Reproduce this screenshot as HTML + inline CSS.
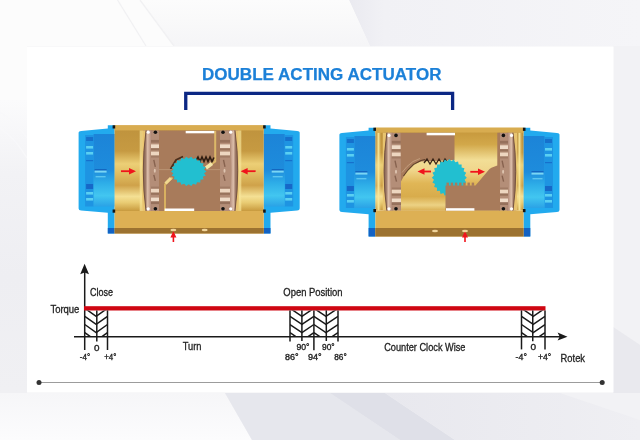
<!DOCTYPE html>
<html><head><meta charset="utf-8"><style>
html,body{margin:0;padding:0;width:640px;height:440px;overflow:hidden;background:#f1f1f4;}
svg{display:block;font-family:"Liberation Sans",sans-serif;will-change:transform;filter:blur(0.35px);}
</style></head><body>
<svg width="640" height="440" viewBox="0 0 640 440" font-family="Liberation Sans, sans-serif">
<defs>
<linearGradient id="bgTR" x1="0" y1="0" x2="1" y2="0">
<stop offset="0" stop-color="#eaeaf0"/>
<stop offset="0.12" stop-color="#f1f1f5"/>
<stop offset="1" stop-color="#f5f5f8"/>
</linearGradient>
<linearGradient id="bgL" x1="0" y1="0" x2="0" y2="1">
<stop offset="0" stop-color="#fbfbfc"/>
<stop offset="0.25" stop-color="#f2f2f5"/>
<stop offset="0.6" stop-color="#eeeef2"/>
<stop offset="1" stop-color="#f0f0f3"/>
</linearGradient>
<linearGradient id="bgBR" x1="0" y1="0" x2="1" y2="0">
<stop offset="0" stop-color="#e8e8ee"/>
<stop offset="1" stop-color="#efeff3"/>
</linearGradient>
<linearGradient id="bgTM" x1="0" y1="0" x2="0" y2="1">
<stop offset="0" stop-color="#fcfcfc"/>
<stop offset="1" stop-color="#f5f5f7"/>
</linearGradient>
<linearGradient id="bgBL" x1="0" y1="0" x2="0" y2="1">
<stop offset="0" stop-color="#f6f6f8"/>
<stop offset="1" stop-color="#fcfcfd"/>
</linearGradient>
<linearGradient id="wallHL" x1="0" y1="0" x2="1" y2="0">
<stop offset="0" stop-color="#f4dc90" stop-opacity="0"/>
<stop offset="0.5" stop-color="#f8e89c" stop-opacity="0.9"/>
<stop offset="1" stop-color="#f4dc90" stop-opacity="0"/>
</linearGradient>
<linearGradient id="goldBody" x1="0" y1="0" x2="0" y2="1">
<stop offset="0" stop-color="#dcb054"/>
<stop offset="0.07" stop-color="#c0943e"/>
<stop offset="0.3" stop-color="#c69a42"/>
<stop offset="0.45" stop-color="#eccf76"/>
<stop offset="0.55" stop-color="#e2c064"/>
<stop offset="0.7" stop-color="#cfa24a"/>
<stop offset="0.83" stop-color="#f4e094"/>
<stop offset="0.9" stop-color="#e9cc74"/>
<stop offset="1" stop-color="#c89a3e"/>
</linearGradient>
<linearGradient id="capPanel" x1="0" y1="0" x2="0" y2="1">
<stop offset="0" stop-color="#1c84d8"/>
<stop offset="0.5" stop-color="#1e8cdc"/>
<stop offset="0.68" stop-color="#2eaee8"/>
<stop offset="0.85" stop-color="#42c6f0"/>
<stop offset="1" stop-color="#2aa2e6"/>
</linearGradient>
<linearGradient id="pistonStripL" x1="0" y1="0" x2="1" y2="0">
<stop offset="0" stop-color="#8a6858"/>
<stop offset="0.25" stop-color="#9c7866"/>
<stop offset="0.5" stop-color="#dcbeaa"/>
<stop offset="1" stop-color="#a88070"/>
</linearGradient>
<linearGradient id="pistonStripR" x1="1" y1="0" x2="0" y2="0">
<stop offset="0" stop-color="#8a6858"/>
<stop offset="0.25" stop-color="#9c7866"/>
<stop offset="0.5" stop-color="#dcbeaa"/>
<stop offset="1" stop-color="#a88070"/>
</linearGradient>
<linearGradient id="innerGold" x1="0" y1="0" x2="0" y2="1">
<stop offset="0" stop-color="#c89a3e"/>
<stop offset="0.15" stop-color="#d2a84a"/>
<stop offset="0.35" stop-color="#f2de96"/>
<stop offset="0.48" stop-color="#f0d68c"/>
<stop offset="0.65" stop-color="#e0b656"/>
<stop offset="0.82" stop-color="#d8ac4c"/>
<stop offset="0.93" stop-color="#ecd284"/>
<stop offset="1" stop-color="#dab054"/>
</linearGradient>
<clipPath id="c848"><rect x="84.8" y="310.4" width="22.700000000000003" height="26.4"/></clipPath><clipPath id="c2900"><rect x="290" y="310.4" width="23.899999999999977" height="26.4"/></clipPath><clipPath id="c3139"><rect x="313.9" y="310.4" width="24.100000000000023" height="26.4"/></clipPath><clipPath id="c5215"><rect x="521.5" y="310.4" width="23.5" height="26.4"/></clipPath>
</defs>
<rect x="0" y="0" width="640" height="440" fill="#f0f0f3"/>
<polygon points="0,0 349,0 370,46 27,46 27,100 0,100" fill="#fcfcfc"/>
<polygon points="349,0 640,0 640,46.5 370,46.5" fill="url(#bgTR)"/>
<polygon points="140,0 349,0 370,46 174,46" fill="url(#bgTM)"/>
<path d="M117.5 0L146 46M140 0L174 46" stroke="#f1f1f3" stroke-width="1.3"/>
<rect x="0" y="100" width="27" height="293" fill="url(#bgL)"/>
<path d="M0 112Q14 120 27 138M0 128Q15 138 27 158" stroke="#f8f8fa" stroke-width="1.2" fill="none"/>
<polygon points="613,46 640,46 640,345 613,327" fill="#f2f2f5"/>
<polygon points="613,327 640,345 640,393 613,393" fill="#e9e9ee"/>
<polygon points="0,393 225,393 252,440 0,440" fill="url(#bgBL)"/>
<polygon points="225,393 330,393 400,440 252,440" fill="#e6e7ed"/>
<polygon points="330,393 385,393 455,440 400,440" fill="#dfe0e8"/>
<polygon points="385,393 640,393 640,440 455,440" fill="url(#bgBR)"/>
<polygon points="560,393 640,393 640,420" fill="#f2f2f5"/>
<rect x="27" y="46.5" width="586.5" height="346" fill="#ffffff"/><text x="202" y="80" font-family="Liberation Sans" font-weight="bold" font-size="17.4" fill="#1c80d8" stroke="#1c80d8" stroke-width="0.25" textLength="239.5" lengthAdjust="spacingAndGlyphs">DOUBLE ACTING ACTUATOR</text><path d="M185.75 110V93.3H452.6V110" fill="none" stroke="#0b2784" stroke-width="3.3"/><path d="M78.6 132.6 Q78.6 131 81.1 131 L107.8 128.5 L107.8 125.3 L114.6 125.3 L114.6 233.5 L107.8 233.5 L107.8 212.7 L81.1 210.5 Q78.6 210.5 78.6 208.5 Z" fill="#22aaee"/><rect x="85.1" y="135" width="8.5" height="71.5" fill="#1e94e2"/><rect x="93.6" y="134" width="21" height="72.5" fill="url(#capPanel)"/><rect x="86.1" y="137" width="7" height="4" fill="#1670cc"/><rect x="86.1" y="146" width="7" height="2.6" fill="#5ad0f2"/><rect x="86.1" y="152" width="7" height="2.6" fill="#5ad0f2"/><rect x="86.1" y="160" width="7" height="1.2" fill="#1670cc"/><rect x="86.1" y="184" width="7" height="5" fill="#1668c8"/><rect x="86.1" y="192" width="7" height="2.6" fill="#5ad0f2"/><rect x="86.1" y="198" width="7" height="2.6" fill="#5ad0f2"/><rect x="94.6" y="169" width="12" height="1.6" fill="#1466c0"/><rect x="94.6" y="170.6" width="12" height="2" fill="#7ad6f4"/><rect x="95.6" y="176" width="10" height="1.4" fill="#6ad0f2" opacity="0.8"/><rect x="107.8" y="228" width="6.8" height="5.5" fill="#1262c4"/><g transform="translate(378.29999999999995 0) scale(-1 1)"><path d="M78.6 132.6 Q78.6 131 81.1 131 L107.8 128.5 L107.8 125.3 L114.6 125.3 L114.6 233.5 L107.8 233.5 L107.8 212.7 L81.1 210.5 Q78.6 210.5 78.6 208.5 Z" fill="#22aaee"/><rect x="85.1" y="135" width="8.5" height="71.5" fill="#1e94e2"/><rect x="93.6" y="134" width="21" height="72.5" fill="url(#capPanel)"/><rect x="86.1" y="137" width="7" height="4" fill="#1670cc"/><rect x="86.1" y="146" width="7" height="2.6" fill="#5ad0f2"/><rect x="86.1" y="152" width="7" height="2.6" fill="#5ad0f2"/><rect x="86.1" y="160" width="7" height="1.2" fill="#1670cc"/><rect x="86.1" y="184" width="7" height="5" fill="#1668c8"/><rect x="86.1" y="192" width="7" height="2.6" fill="#5ad0f2"/><rect x="86.1" y="198" width="7" height="2.6" fill="#5ad0f2"/><rect x="94.6" y="169" width="12" height="1.6" fill="#1466c0"/><rect x="94.6" y="170.6" width="12" height="2" fill="#7ad6f4"/><rect x="95.6" y="176" width="10" height="1.4" fill="#6ad0f2" opacity="0.8"/><rect x="107.8" y="228" width="6.8" height="5.5" fill="#1262c4"/></g><rect x="114.6" y="125.3" width="149.1" height="85.7" fill="url(#goldBody)"/><rect x="114.6" y="125.3" width="149.1" height="5" fill="#d8ac50"/><rect x="114.6" y="211" width="149.1" height="22.5" fill="#ddb054"/><rect x="114.6" y="228" width="149.1" height="5.5" fill="#9c7230"/><rect x="112.6" y="125.3" width="2.6" height="3.2" fill="#151515"/><rect x="263.09999999999997" y="125.3" width="2.6" height="3.2" fill="#151515"/><rect x="112.6" y="209.5" width="2.6" height="3.2" fill="#151515"/><rect x="263.09999999999997" y="209.5" width="2.6" height="3.2" fill="#151515"/><path d="M339.4 134.6 Q339.4 133 341.9 133 L368.59999999999997 130.5 L368.59999999999997 127.7 L375.4 127.7 L375.4 236.5 L368.59999999999997 236.5 L368.59999999999997 214.2 L341.9 212 Q339.4 212 339.4 210 Z" fill="#22aaee"/><rect x="345.9" y="137" width="8.5" height="71" fill="#1e94e2"/><rect x="354.4" y="136" width="21" height="72" fill="url(#capPanel)"/><rect x="346.9" y="139" width="7" height="4" fill="#1670cc"/><rect x="346.9" y="148" width="7" height="2.6" fill="#5ad0f2"/><rect x="346.9" y="154" width="7" height="2.6" fill="#5ad0f2"/><rect x="346.9" y="162" width="7" height="1.2" fill="#1670cc"/><rect x="346.9" y="186" width="7" height="5" fill="#1668c8"/><rect x="346.9" y="194" width="7" height="2.6" fill="#5ad0f2"/><rect x="346.9" y="200" width="7" height="2.6" fill="#5ad0f2"/><rect x="355.4" y="171" width="12" height="1.6" fill="#1466c0"/><rect x="355.4" y="172.6" width="12" height="2" fill="#7ad6f4"/><rect x="356.4" y="178" width="10" height="1.4" fill="#6ad0f2" opacity="0.8"/><rect x="368.59999999999997" y="228" width="6.8" height="8.5" fill="#1262c4"/><g transform="translate(898.9 0) scale(-1 1)"><path d="M339.4 134.6 Q339.4 133 341.9 133 L368.59999999999997 130.5 L368.59999999999997 127.7 L375.4 127.7 L375.4 236.5 L368.59999999999997 236.5 L368.59999999999997 214.2 L341.9 212 Q339.4 212 339.4 210 Z" fill="#22aaee"/><rect x="345.9" y="137" width="8.5" height="71" fill="#1e94e2"/><rect x="354.4" y="136" width="21" height="72" fill="url(#capPanel)"/><rect x="346.9" y="139" width="7" height="4" fill="#1670cc"/><rect x="346.9" y="148" width="7" height="2.6" fill="#5ad0f2"/><rect x="346.9" y="154" width="7" height="2.6" fill="#5ad0f2"/><rect x="346.9" y="162" width="7" height="1.2" fill="#1670cc"/><rect x="346.9" y="186" width="7" height="5" fill="#1668c8"/><rect x="346.9" y="194" width="7" height="2.6" fill="#5ad0f2"/><rect x="346.9" y="200" width="7" height="2.6" fill="#5ad0f2"/><rect x="355.4" y="171" width="12" height="1.6" fill="#1466c0"/><rect x="355.4" y="172.6" width="12" height="2" fill="#7ad6f4"/><rect x="356.4" y="178" width="10" height="1.4" fill="#6ad0f2" opacity="0.8"/><rect x="368.59999999999997" y="228" width="6.8" height="8.5" fill="#1262c4"/></g><rect x="375.4" y="127.7" width="148.10000000000002" height="82.8" fill="url(#goldBody)"/><rect x="375.4" y="127.7" width="148.10000000000002" height="5" fill="#d8ac50"/><rect x="375.4" y="210.5" width="148.10000000000002" height="26.0" fill="#ddb054"/><rect x="375.4" y="228" width="148.10000000000002" height="8.5" fill="#9c7230"/><rect x="373.4" y="127.7" width="2.6" height="3.2" fill="#151515"/><rect x="522.9" y="127.7" width="2.6" height="3.2" fill="#151515"/><rect x="373.4" y="209.0" width="2.6" height="3.2" fill="#151515"/><rect x="522.9" y="209.0" width="2.6" height="3.2" fill="#151515"/><rect x="143" y="130.5" width="95" height="80.5" fill="#a87b5b"/><rect x="143" y="130.5" width="16" height="80.5" fill="#b48e78"/><path d="M142 130.5H146Q140.5 170.75 146 211H142Z" fill="#e8c470"/><path d="M146 130.5Q140.5 170.75 146 211H152Q147 170.75 152 130.5Z" fill="url(#pistonStripL)"/><path d="M146 130.5Q140.5 170.75 146 211" stroke="#6e4c3a" stroke-width="0.9" fill="none"/><rect x="151" y="139.9" width="8" height="2.8" fill="#7e5a46" opacity="0.55"/><rect x="151" y="144.4" width="8" height="3.8" fill="#f2dfcc" opacity="0.95"/><rect x="151" y="148.2" width="8" height="2.2" fill="#86604a" opacity="0.6"/><rect x="151" y="151.7" width="8" height="3.8" fill="#f0dac4" opacity="0.95"/><rect x="151" y="155.4" width="8" height="2.2" fill="#8a644e" opacity="0.45"/><rect x="151" y="186.6" width="8" height="2.2" fill="#8a644e" opacity="0.45"/><rect x="151" y="188.8" width="8" height="3.8" fill="#f0dac4" opacity="0.95"/><rect x="151" y="192.6" width="8" height="2.2" fill="#86604a" opacity="0.6"/><rect x="151" y="197.6" width="8" height="3.8" fill="#f2dfcc" opacity="0.95"/><rect x="151" y="201.3" width="8" height="2.8" fill="#7e5a46" opacity="0.55"/><path d="M153.8 159.8L155.3 166.8M153.8 174.8L155.3 180.8" stroke="#6a4634" stroke-width="1.4" opacity="0.6"/><ellipse cx="154.8" cy="170.8" rx="1" ry="2" fill="#f0dcc8" opacity="0.7"/><rect x="220" y="130.5" width="18" height="80.5" fill="#b48e78"/><path d="M239 130.5H235Q240.5 170.75 235 211H239Z" fill="#e8c470"/><path d="M235 130.5Q240.5 170.75 235 211H229Q234 170.75 229 130.5Z" fill="url(#pistonStripR)"/><path d="M235 130.5Q240.5 170.75 235 211" stroke="#6e4c3a" stroke-width="0.9" fill="none"/><rect x="220" y="139.9" width="10" height="2.8" fill="#7e5a46" opacity="0.55"/><rect x="220" y="144.4" width="10" height="3.8" fill="#f2dfcc" opacity="0.95"/><rect x="220" y="148.2" width="10" height="2.2" fill="#86604a" opacity="0.6"/><rect x="220" y="151.7" width="10" height="3.8" fill="#f0dac4" opacity="0.95"/><rect x="220" y="155.4" width="10" height="2.2" fill="#8a644e" opacity="0.45"/><rect x="220" y="186.6" width="10" height="2.2" fill="#8a644e" opacity="0.45"/><rect x="220" y="188.8" width="10" height="3.8" fill="#f0dac4" opacity="0.95"/><rect x="220" y="192.6" width="10" height="2.2" fill="#86604a" opacity="0.6"/><rect x="220" y="197.6" width="10" height="3.8" fill="#f2dfcc" opacity="0.95"/><rect x="220" y="201.3" width="10" height="2.8" fill="#7e5a46" opacity="0.55"/><path d="M223.5 159.8L225.0 166.8M223.5 174.8L225.0 180.8" stroke="#6a4634" stroke-width="1.4" opacity="0.6"/><ellipse cx="224.5" cy="170.8" rx="1" ry="2" fill="#f0dcc8" opacity="0.7"/><path d="M215.2 131V161.5L206 168" stroke="#dcb868" stroke-width="2" fill="none"/><path d="M212 163.5L206 168" stroke="#f4e6a8" stroke-width="3.5" fill="none"/><path d="M172.5 177.5L165 184.5V211" stroke="#d8b060" stroke-width="2" fill="none"/><path d="M171 178L165.5 183.5" stroke="#f0d890" stroke-width="3" fill="none"/><path d="M196 160.5L198 157L200 161.5L202 157L204 161.5L206 157L208 161.5L210 157L212 161.5L214 157.5" stroke="#2e1c10" stroke-width="1.6" fill="none"/><path d="M170.5 169L176 160L183 156.5" stroke="#4a2e1c" stroke-width="1.8" fill="none"/><path d="M159 169.6H172M206 169.6H220" stroke="#c4a080" stroke-width="0.9" opacity="0.7"/><polygon points="206.50,171.40 204.04,173.22 205.78,175.54 202.80,176.72 203.67,179.35 200.41,179.78 200.36,182.51 197.08,182.17 196.09,184.77 193.07,183.68 191.23,185.95 188.70,184.20 186.17,185.95 184.33,183.68 181.31,184.77 180.32,182.17 177.04,182.51 176.99,179.78 173.73,179.35 174.60,176.72 171.62,175.54 173.36,173.22 170.90,171.40 173.36,169.58 171.62,167.26 174.60,166.08 173.73,163.45 176.99,163.02 177.04,160.29 180.32,160.63 181.31,158.03 184.33,159.12 186.17,156.85 188.70,158.60 191.23,156.85 193.07,159.12 196.09,158.03 197.08,160.63 200.36,160.29 200.41,163.02 203.67,163.45 202.80,166.08 205.78,167.26 204.04,169.58" fill="#22bfd0"/><rect x="185.7" y="130.9" width="28.6" height="2.4" fill="#fff"/><rect x="164.7" y="208.5" width="29.5" height="2.5" fill="#fff"/><circle cx="148.2" cy="132.2" r="1.6" fill="#fff"/><circle cx="155.4" cy="132.2" r="1.8" fill="#111"/><circle cx="148.2" cy="208.8" r="1.6" fill="#fff"/><circle cx="155.4" cy="208.8" r="1.8" fill="#111"/><circle cx="230.7" cy="132.2" r="1.6" fill="#fff"/><circle cx="223" cy="132.2" r="1.8" fill="#111"/><circle cx="230.7" cy="208.8" r="1.6" fill="#fff"/><circle cx="223" cy="208.8" r="1.8" fill="#111"/><rect x="139" y="130.5" width="4" height="80.5" fill="url(#wallHL)"/><rect x="238" y="130.5" width="4" height="80.5" fill="url(#wallHL)"/><path d="M121 171.2H131" stroke="#f0141c" stroke-width="1.8"/><path d="M136 171.2L129 168.0L129 174.39999999999998Z" fill="#f0141c"/><path d="M255.6 171.2H245.6" stroke="#f0141c" stroke-width="1.8"/><path d="M240.6 171.2L247.6 168.0L247.6 174.39999999999998Z" fill="#f0141c"/><path d="M173.4 242V236" stroke="#f0141c" stroke-width="1.6"/><path d="M173.4 231L170.4 237.5L176.4 237.5Z" fill="#f0141c"/><ellipse cx="173.4" cy="230" rx="3" ry="1.2" fill="#f0d49a"/><ellipse cx="204.7" cy="230" rx="3" ry="1.2" fill="#f0d49a"/><rect x="383.5" y="132.8" width="133" height="77.7" fill="url(#innerGold)"/><rect x="383.8" y="132.8" width="17.19999999999999" height="77.69999999999999" fill="#b48e78"/><path d="M382.8 132.8H386.8Q381.3 171.65 386.8 210.5H382.8Z" fill="#e8c470"/><path d="M386.8 132.8Q381.3 171.65 386.8 210.5H392.8Q387.8 171.65 392.8 132.8Z" fill="url(#pistonStripL)"/><path d="M386.8 132.8Q381.3 171.65 386.8 210.5" stroke="#6e4c3a" stroke-width="0.9" fill="none"/><rect x="391.8" y="140.8" width="9.199999999999989" height="2.8" fill="#7e5a46" opacity="0.55"/><rect x="391.8" y="145.3" width="9.199999999999989" height="3.8" fill="#f2dfcc" opacity="0.95"/><rect x="391.8" y="149.2" width="9.199999999999989" height="2.2" fill="#86604a" opacity="0.6"/><rect x="391.8" y="152.6" width="9.199999999999989" height="3.8" fill="#f0dac4" opacity="0.95"/><rect x="391.8" y="156.3" width="9.199999999999989" height="2.2" fill="#8a644e" opacity="0.45"/><rect x="391.8" y="187.5" width="9.199999999999989" height="2.2" fill="#8a644e" opacity="0.45"/><rect x="391.8" y="189.7" width="9.199999999999989" height="3.8" fill="#f0dac4" opacity="0.95"/><rect x="391.8" y="193.5" width="9.199999999999989" height="2.2" fill="#86604a" opacity="0.6"/><rect x="391.8" y="198.5" width="9.199999999999989" height="3.8" fill="#f2dfcc" opacity="0.95"/><rect x="391.8" y="202.2" width="9.199999999999989" height="2.8" fill="#7e5a46" opacity="0.55"/><path d="M395.0 160.7L396.5 167.7M395.0 175.7L396.5 181.7" stroke="#6a4634" stroke-width="1.4" opacity="0.6"/><ellipse cx="396.0" cy="171.7" rx="1" ry="2" fill="#f0dcc8" opacity="0.7"/><rect x="499" y="132.8" width="17" height="77.69999999999999" fill="#b48e78"/><path d="M517 132.8H513Q518.5 171.65 513 210.5H517Z" fill="#e8c470"/><path d="M513 132.8Q518.5 171.65 513 210.5H507Q512 171.65 507 132.8Z" fill="url(#pistonStripR)"/><path d="M513 132.8Q518.5 171.65 513 210.5" stroke="#6e4c3a" stroke-width="0.9" fill="none"/><rect x="499" y="140.8" width="9" height="2.8" fill="#7e5a46" opacity="0.55"/><rect x="499" y="145.3" width="9" height="3.8" fill="#f2dfcc" opacity="0.95"/><rect x="499" y="149.2" width="9" height="2.2" fill="#86604a" opacity="0.6"/><rect x="499" y="152.6" width="9" height="3.8" fill="#f0dac4" opacity="0.95"/><rect x="499" y="156.3" width="9" height="2.2" fill="#8a644e" opacity="0.45"/><rect x="499" y="187.5" width="9" height="2.2" fill="#8a644e" opacity="0.45"/><rect x="499" y="189.7" width="9" height="3.8" fill="#f0dac4" opacity="0.95"/><rect x="499" y="193.5" width="9" height="2.2" fill="#86604a" opacity="0.6"/><rect x="499" y="198.5" width="9" height="3.8" fill="#f2dfcc" opacity="0.95"/><rect x="499" y="202.2" width="9" height="2.8" fill="#7e5a46" opacity="0.55"/><path d="M502.1 160.7L503.6 167.7M502.1 175.7L503.6 181.7" stroke="#6a4634" stroke-width="1.4" opacity="0.6"/><ellipse cx="503.1" cy="171.7" rx="1" ry="2" fill="#f0dcc8" opacity="0.7"/><path d="M400.5 132.8H454.5V160L421 161.5L414 164L408.5 169.5L404.5 175L401 181.5Z" fill="#a87b5b"/><path d="M403.5 176L408 170L413.5 164.5L421 160.5L425 159.5" stroke="#4a2e1c" stroke-width="1.1" fill="none" opacity="0.8"/><path d="M402 172.5L407 166.5L413 161.5L420 158.5" stroke="#e0c6a4" stroke-width="0.8" fill="none" opacity="0.55"/><path d="M424 163L427 159L430 164L433 159L436 164L439 159L442 164L445 159L448 163" stroke="#3a2416" stroke-width="1.3" fill="none"/><polygon points="466.80,177.70 464.62,179.87 466.20,182.57 463.58,184.05 464.46,187.10 461.56,187.81 461.67,190.99 458.71,190.87 458.05,193.98 455.21,193.04 453.83,195.86 451.32,194.16 449.30,196.50 447.28,194.16 444.77,195.86 443.39,193.04 440.55,193.98 439.89,190.87 436.93,190.99 437.04,187.81 434.14,187.10 435.02,184.05 432.40,182.57 433.98,179.87 431.80,177.70 433.98,175.53 432.40,172.83 435.02,171.35 434.14,168.30 437.04,167.59 436.93,164.41 439.89,164.53 440.55,161.42 443.39,162.36 444.77,159.54 447.28,161.24 449.30,158.90 451.32,161.24 453.83,159.54 455.21,162.36 458.05,161.42 458.71,164.53 461.67,164.41 461.56,167.59 464.46,168.30 463.58,171.35 466.20,172.83 464.62,175.53" fill="#22bfd0"/><path d="M445.5 185.5H475.5L489.5 169L491.4 167.7L497.3 165.5V132.8H500V210.5H445.5Z" fill="#a87b5b"/><rect x="446.5" y="182.6" width="2.4" height="3.2" fill="#a87b5b"/><rect x="450.7" y="182.6" width="2.4" height="3.2" fill="#a87b5b"/><rect x="454.9" y="182.6" width="2.4" height="3.2" fill="#a87b5b"/><rect x="459.1" y="182.6" width="2.4" height="3.2" fill="#a87b5b"/><rect x="463.3" y="182.6" width="2.4" height="3.2" fill="#a87b5b"/><rect x="467.5" y="182.6" width="2.4" height="3.2" fill="#a87b5b"/><rect x="471.7" y="182.6" width="2.4" height="3.2" fill="#a87b5b"/><rect x="426.6" y="132.8" width="28.4" height="2.5" fill="#fff"/><rect x="446" y="208.2" width="28.4" height="2.5" fill="#fff"/><circle cx="389" cy="135.4" r="1.6" fill="#fff"/><circle cx="396" cy="135.4" r="1.8" fill="#111"/><circle cx="389" cy="208.8" r="1.6" fill="#fff"/><circle cx="396" cy="208.8" r="1.8" fill="#111"/><circle cx="511.5" cy="135.4" r="1.6" fill="#fff"/><circle cx="503.4" cy="135.4" r="1.8" fill="#111"/><circle cx="511.5" cy="208.8" r="1.6" fill="#fff"/><circle cx="503.4" cy="208.8" r="1.8" fill="#111"/><rect x="376" y="132.8" width="5" height="77.7" fill="url(#wallHL)"/><rect x="517" y="132.8" width="5" height="77.7" fill="url(#wallHL)"/><path d="M431 171.5H422.5" stroke="#f0141c" stroke-width="1.8"/><path d="M417.5 171.5L424.5 168.3L424.5 174.7Z" fill="#f0141c"/><path d="M470.3 171.8H480" stroke="#f0141c" stroke-width="1.8"/><path d="M485 171.8L478 168.60000000000002L478 175.0Z" fill="#f0141c"/><path d="M465 242V236" stroke="#f0141c" stroke-width="1.6"/><path d="M465 231L462 237.5L468 237.5Z" fill="#f0141c"/><ellipse cx="435" cy="231" rx="3" ry="1.2" fill="#f0d49a"/><ellipse cx="465" cy="231" rx="3" ry="1.2" fill="#f0d49a"/><path d="M84.7 350V270" stroke="#1a1a1a" stroke-width="1.5" fill="none"/><path d="M84.6 263.8L89 274.3L84.6 272.4L80.2 274.3Z" fill="#1a1a1a"/><path d="M74 336.8H560" stroke="#1a1a1a" stroke-width="1.4" fill="none"/><path d="M567.5 336.7L557.6 332.5L559.7 336.7L557.6 340.6Z" fill="#1a1a1a"/><rect x="84" y="306.2" width="461.5" height="4.3" fill="#cf0612"/><path clip-path="url(#c848)" d="M84.8 308.30L96.15 316.30L107.5 308.30M84.8 316.30L96.15 324.30L107.5 316.30M84.8 324.50L96.15 332.50L107.5 324.50M84.8 332.70L96.15 340.70L107.5 332.70" stroke="#1a1a1a" stroke-width="1.5" fill="none"/><path clip-path="url(#c2900)" d="M290 308.30L301.95 316.30L313.9 308.30M290 316.30L301.95 324.30L313.9 316.30M290 324.50L301.95 332.50L313.9 324.50M290 332.70L301.95 340.70L313.9 332.70" stroke="#1a1a1a" stroke-width="1.5" fill="none"/><path clip-path="url(#c3139)" d="M313.9 308.30L325.95 316.30L338 308.30M313.9 316.30L325.95 324.30L338 316.30M313.9 324.50L325.95 332.50L338 324.50M313.9 332.70L325.95 340.70L338 332.70" stroke="#1a1a1a" stroke-width="1.5" fill="none"/><path clip-path="url(#c5215)" d="M521.5 308.30L533.25 316.30L545 308.30M521.5 316.30L533.25 324.30L545 316.30M521.5 324.50L533.25 332.50L545 324.50M521.5 332.70L533.25 340.70L545 332.70" stroke="#1a1a1a" stroke-width="1.5" fill="none"/><path d="M96.8 310.4V341.5" stroke="#1a1a1a" stroke-width="1.5"/><path d="M107.5 310.4V350" stroke="#1a1a1a" stroke-width="1.5"/><path d="M290 310.4V341.5" stroke="#1a1a1a" stroke-width="1.5"/><path d="M301.9 310.4V341" stroke="#1a1a1a" stroke-width="1.5"/><path d="M313.9 310.4V350.2" stroke="#1a1a1a" stroke-width="1.5"/><path d="M326.3 310.4V341" stroke="#1a1a1a" stroke-width="1.5"/><path d="M338 310.4V341.5" stroke="#1a1a1a" stroke-width="1.5"/><path d="M521.5 310.4V349.4" stroke="#1a1a1a" stroke-width="1.5"/><path d="M532.75 310.4V341.2" stroke="#1a1a1a" stroke-width="1.5"/><path d="M545 310.4V349.4" stroke="#1a1a1a" stroke-width="1.5"/><text x="90" y="295.7" font-size="10.5" fill="#222222" stroke="#222222" stroke-width="0.3" text-anchor="start" textLength="23" lengthAdjust="spacingAndGlyphs">Close</text><text x="50.4" y="312.8" font-size="10.5" fill="#222222" stroke="#222222" stroke-width="0.3" text-anchor="start" textLength="29" lengthAdjust="spacingAndGlyphs">Torque</text><text x="283.3" y="296" font-size="10.5" fill="#222222" stroke="#222222" stroke-width="0.3" text-anchor="start" textLength="59.3" lengthAdjust="spacingAndGlyphs">Open Position</text><text x="182.7" y="349.5" font-size="10.5" fill="#222222" stroke="#222222" stroke-width="0.3" text-anchor="start" textLength="18.7" lengthAdjust="spacingAndGlyphs">Turn</text><text x="384.2" y="350.5" font-size="10.5" fill="#222222" stroke="#222222" stroke-width="0.3" text-anchor="start" textLength="81.3" lengthAdjust="spacingAndGlyphs">Counter Clock Wise</text><text x="560.6" y="361.9" font-size="10.5" fill="#222222" stroke="#222222" stroke-width="0.3" text-anchor="start" textLength="24.4" lengthAdjust="spacingAndGlyphs">Rotek</text><text x="94" y="351.3" font-size="8.8" fill="#222222" stroke="#222222" stroke-width="0.35" text-anchor="start" textLength="5.5" lengthAdjust="spacingAndGlyphs">0</text><text x="79.8" y="360.3" font-size="8.8" fill="#222222" stroke="#222222" stroke-width="0.35" text-anchor="start" textLength="10.3" lengthAdjust="spacingAndGlyphs">-4°</text><text x="104.2" y="360.3" font-size="8.8" fill="#222222" stroke="#222222" stroke-width="0.35" text-anchor="start" textLength="12.2" lengthAdjust="spacingAndGlyphs">+4°</text><text x="296.4" y="349.7" font-size="8.8" fill="#222222" stroke="#222222" stroke-width="0.35" text-anchor="start" textLength="13.1" lengthAdjust="spacingAndGlyphs">90°</text><text x="322" y="349.7" font-size="8.8" fill="#222222" stroke="#222222" stroke-width="0.35" text-anchor="start" textLength="12.7" lengthAdjust="spacingAndGlyphs">90°</text><text x="285" y="360.3" font-size="8.8" fill="#222222" stroke="#222222" stroke-width="0.35" text-anchor="start" textLength="13.6" lengthAdjust="spacingAndGlyphs">86°</text><text x="307.9" y="360.3" font-size="8.8" fill="#222222" stroke="#222222" stroke-width="0.35" text-anchor="start" textLength="13.7" lengthAdjust="spacingAndGlyphs">94°</text><text x="334.2" y="360.3" font-size="8.8" fill="#222222" stroke="#222222" stroke-width="0.35" text-anchor="start" textLength="12.5" lengthAdjust="spacingAndGlyphs">86°</text><text x="530.6" y="350.3" font-size="8.8" fill="#222222" stroke="#222222" stroke-width="0.35" text-anchor="start" textLength="5.6" lengthAdjust="spacingAndGlyphs">0</text><text x="515.6" y="360.1" font-size="8.8" fill="#222222" stroke="#222222" stroke-width="0.35" text-anchor="start" textLength="11.3" lengthAdjust="spacingAndGlyphs">-4°</text><text x="538" y="360.1" font-size="8.8" fill="#222222" stroke="#222222" stroke-width="0.35" text-anchor="start" textLength="13.2" lengthAdjust="spacingAndGlyphs">+4°</text><path d="M39 382.5H602" stroke="#9c9c9c" stroke-width="1.2"/><circle cx="39" cy="382.5" r="2.5" fill="#333"/><circle cx="602.2" cy="382.5" r="2.5" fill="#333"/>
</svg>
</body></html>
